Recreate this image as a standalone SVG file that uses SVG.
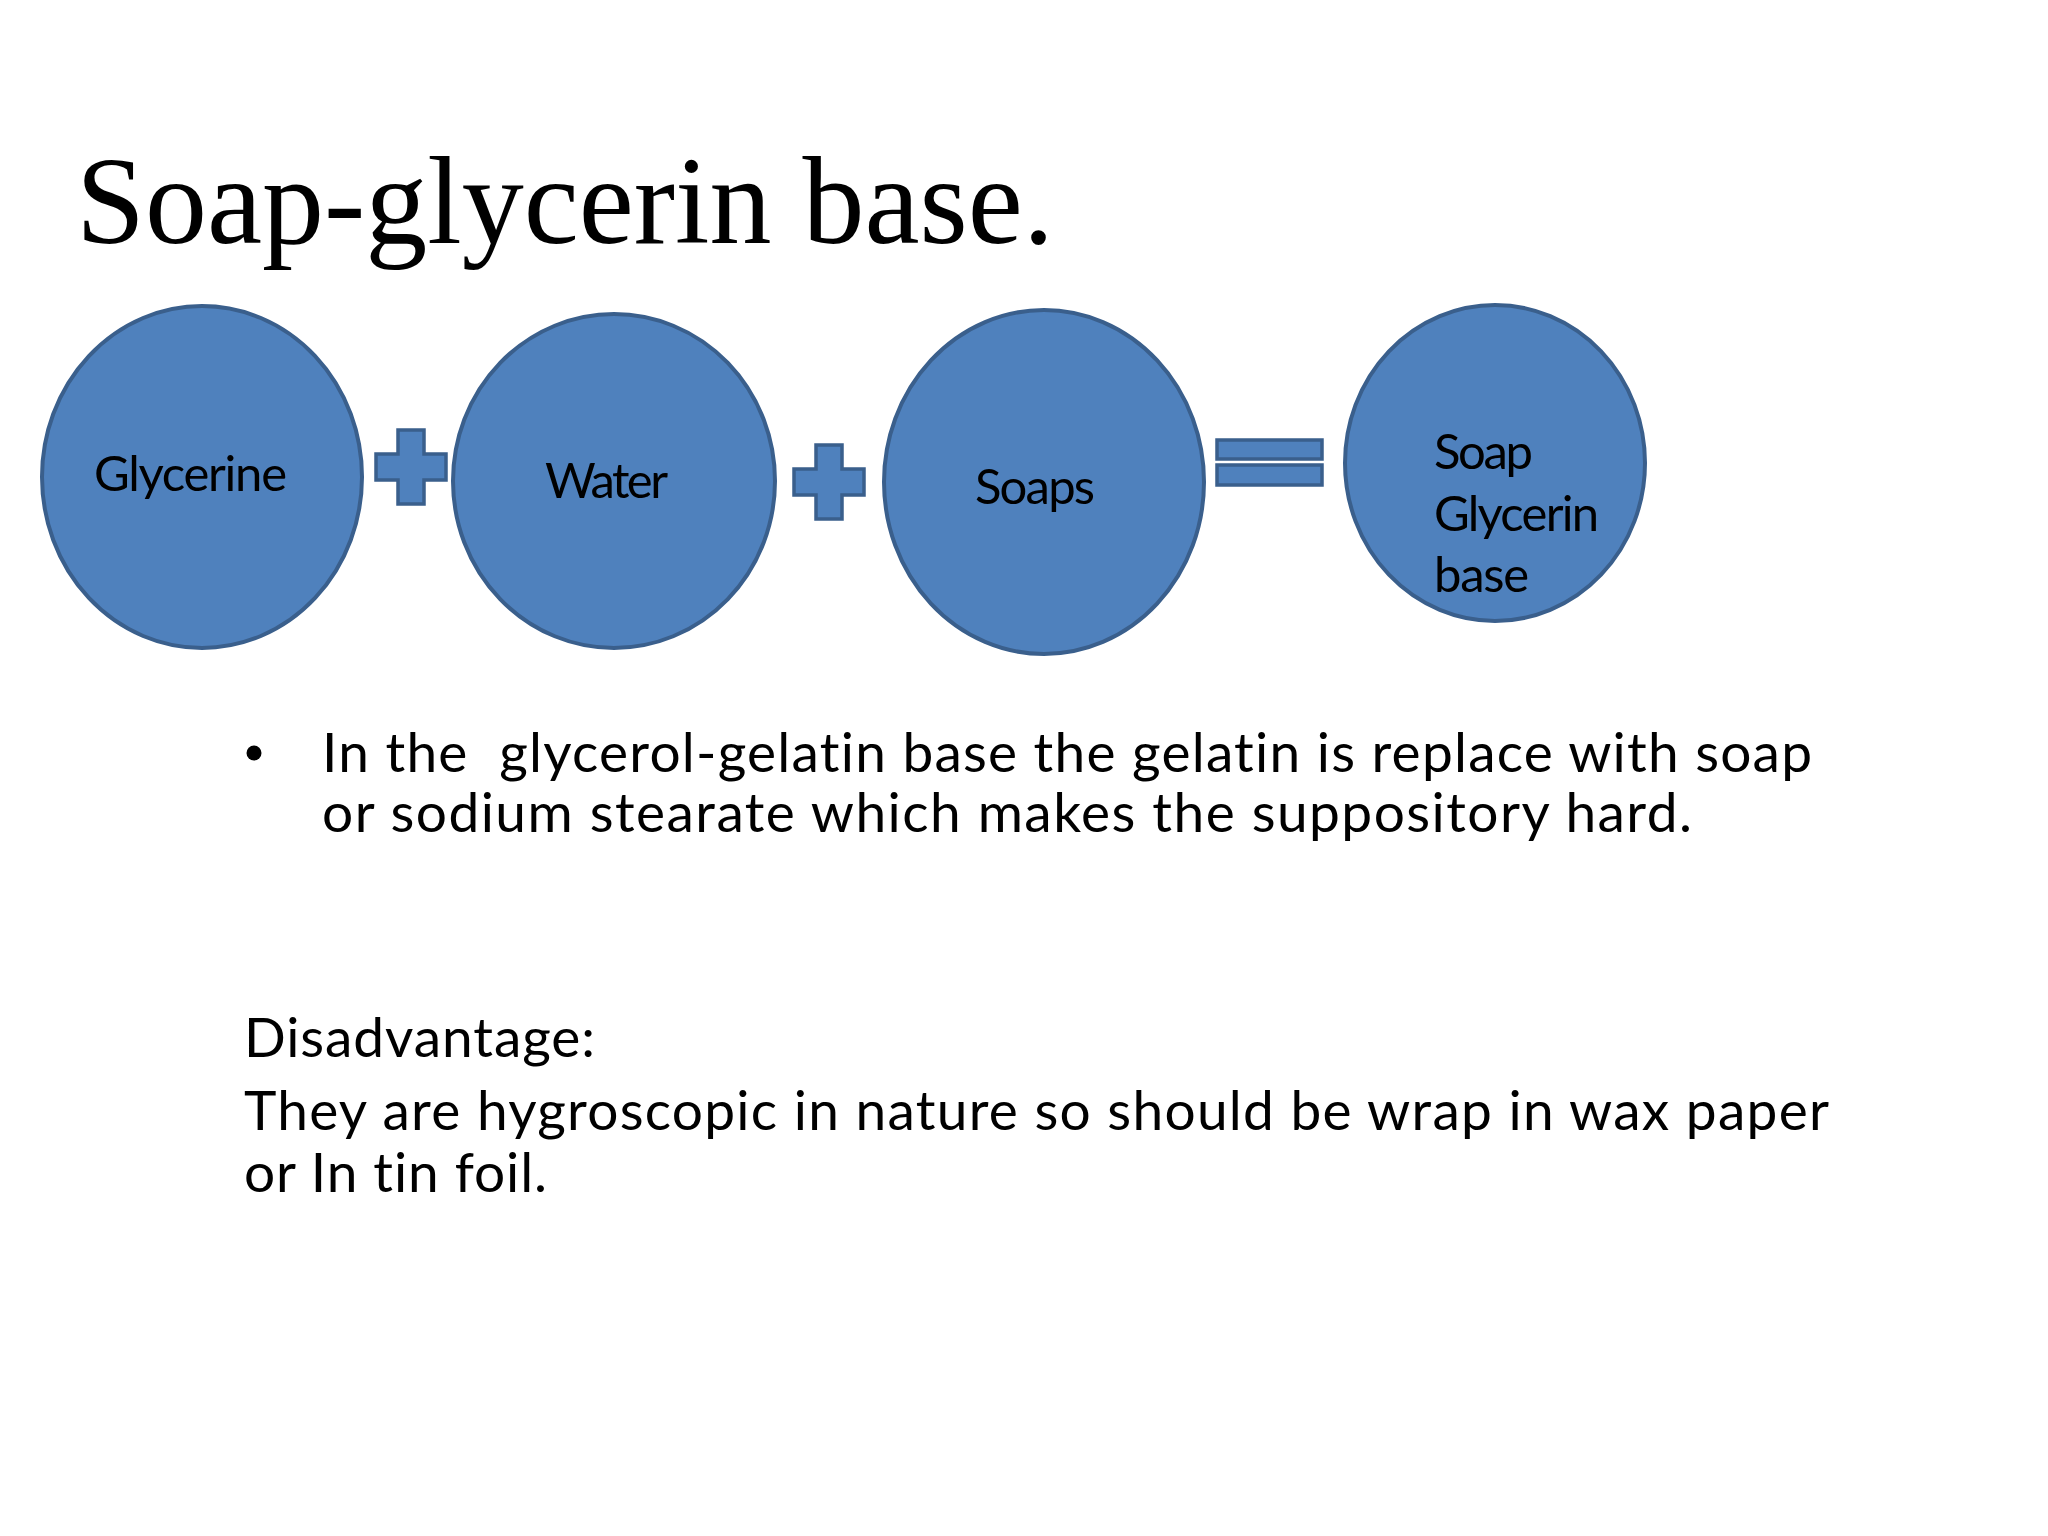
<svg xmlns="http://www.w3.org/2000/svg" width="2048" height="1536" viewBox="0 0 2048 1536">
<style>
.node{fill:#4F81BD;stroke:#3A5F8C;stroke-width:4}
.op{fill:#4F81BD;stroke:#3A5F8C;stroke-width:3.5}
.lbl{font-family:Lato,"Liberation Sans",sans-serif;font-size:49px;fill:#000;font-variant-ligatures:none}
.body{font-family:Lato,"Liberation Sans",sans-serif;font-size:55px;fill:#000;font-variant-ligatures:none}
.title{font-family:"Liberation Serif","Times New Roman",serif;font-size:124px;fill:#000}
</style>
<defs>
<polygon id="plus" points="-13,-37 13,-37 13,-13 35,-13 35,13 13,13 13,37 -13,37 -13,13 -35,13 -35,-13 -13,-13"/>
</defs>
<rect width="2048" height="1536" fill="#fff"/>
<text class="title" x="76" y="243">Soap-glycerin base.</text>
<g id="node-glycerine">
<ellipse class="node" cx="202" cy="477" rx="160" ry="171"/>
<text class="lbl" x="94" y="491" textLength="193">Glycerine</text>
</g>
<g id="node-water">
<ellipse class="node" cx="614" cy="481" rx="161" ry="167"/>
<text class="lbl" x="545" y="498" textLength="123">Water</text>
</g>
<g id="node-soaps">
<ellipse class="node" cx="1044" cy="482" rx="160" ry="172"/>
<text class="lbl" x="975" y="504" textLength="120">Soaps</text>
</g>
<g id="node-result">
<ellipse class="node" cx="1495" cy="463" rx="150" ry="158"/>
<text class="lbl" x="1434" y="469" textLength="99">Soap</text>
<text class="lbl" x="1434" y="531" textLength="165">Glycerin</text>
<text class="lbl" x="1434" y="592" textLength="95">base</text>
</g>
<g id="connectors">
<use href="#plus" class="op" x="411" y="467"/>
<use href="#plus" class="op" x="829" y="482"/>
<rect class="op" x="1217" y="440" width="105" height="19"/>
<rect class="op" x="1217" y="465" width="105" height="20"/>
</g>
<g id="text">
<circle cx="254" cy="753" r="7.5" fill="#000"/>
<text class="body" x="322" y="772" textLength="1490" xml:space="preserve">In the  glycerol-gelatin base the gelatin is replace with soap</text>
<text class="body" x="322" y="832" textLength="1370">or sodium stearate which makes the suppository hard.</text>
<text class="body" x="244" y="1057" textLength="351">Disadvantage:</text>
<text class="body" x="244" y="1130" textLength="1585">They are hygroscopic in nature so should be wrap in wax paper</text>
<text class="body" x="244" y="1192" textLength="303">or In tin foil.</text>
</g>
</svg>
